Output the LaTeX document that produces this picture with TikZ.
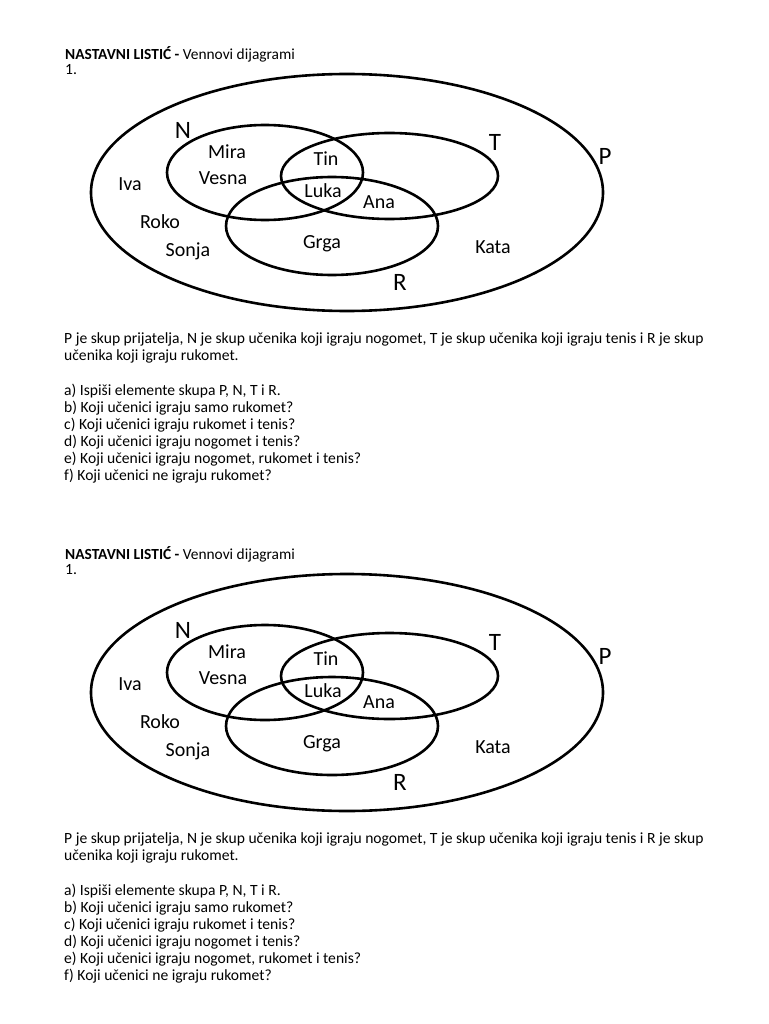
\documentclass[tikz,border=0pt]{standalone}
\usepackage{fontspec}
\setmainfont{Carlito}
\usetikzlibrary{positioning}
\newcommand{\comma}{,}

\begin{document}
\begin{tikzpicture}[x=1pt,y=-1pt,
    setline/.style={line width=2.6pt},
    member/.style={inner sep=0pt,font=\fontsize{20}{24}\selectfont},
    setname/.style={inner sep=0pt,font=\fontsize{25}{30}\selectfont},
    txt/.style={anchor=base west,inner sep=0pt,font=\fontsize{15.6}{18}\selectfont},
    head/.style={txt,font=\fontsize{15.4}{18}\selectfont}]
  \useasboundingbox (0,0) rectangle (768,1024);
  \foreach \o/\k in {0/a,500/b}{
    \begin{scope}[shift={(0,\o)}]
      % heading
      \node[head] (title-\k) at (65,59.3) {\textbf{NASTAVNI LISTIĆ -} Vennovi dijagrami};
      \node[txt] (num-\k) at (65,74.3) {1.};
      % sets P, N, T, R
      \draw[setline] (347,192.5) ellipse [x radius=256, y radius=118.5];
      \draw[setline] (265,172.5) ellipse [x radius=98, y radius=47.5];
      \draw[setline] (389.5,176) ellipse [x radius=108.5, y radius=43];
      \draw[setline] (332,226) ellipse [x radius=106, y radius=49];
      \foreach \x/\y/\n in {183/130/N,495/142/T,605/156/P,400/282/R}
        \node[setname] (set\n-\k) at (\x,\y) {\n};
      \foreach \x/\y/\n/\t in {227/152/mira/Mira,223/178/vesna/Vesna,326/159/tin/Tin,
          323/191/luka/Luka,379/202/ana/Ana,130/184/iva/Iva,160/222/roko/Roko,
          188/251/sonja/Sonja,322/244/grga/Grga,493/247/kata/Kata}
        \node[member] (\n-\k) at (\x,\y) {\t};
      % task text
      \node[txt] (par1-\k) at (64,343.3) {P je skup prijatelja\comma{} N je skup učenika koji igraju nogomet\comma{} T je skup učenika koji igraju tenis i R je skup};
      \node[txt] (par2-\k) at (64,360) {učenika koji igraju rukomet.};
      \foreach \y/\n/\t in {395.7/qa/a) Ispiši elemente skupa P\comma{} N\comma{} T i R.,
          412.6/qb/b) Koji učenici igraju samo rukomet?,
          429.5/qc/c) Koji učenici igraju rukomet i tenis?,
          446.4/qd/d) Koji učenici igraju nogomet i tenis?,
          463.3/qe/e) Koji učenici igraju nogomet\comma{} rukomet i tenis?,
          480.2/qf/f) Koji učenici ne igraju rukomet?}
        \node[txt] (\n-\k) at (64,\y) {\t};
    \end{scope}
  }
\end{tikzpicture}
\end{document}
